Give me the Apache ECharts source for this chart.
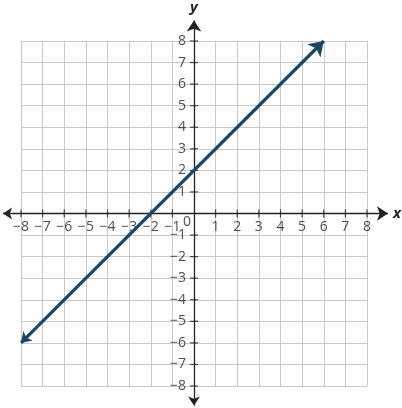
<!DOCTYPE html>
<html>
<head>
<meta charset="utf-8">
<script src="https://cdn.jsdelivr.net/npm/echarts@6/dist/echarts.min.js"></script>
<style>html,body{margin:0;padding:0;background:#fff}#c{width:402px;height:408px}</style>
</head>
<body>
<div id="c"></div>
<script>
// ---- data ----
const axisMin = -8;
const axisMax = 8;
const tickStep = 1;
const tickValues = [-8, -7, -6, -5, -4, -3, -2, -1, 1, 2, 3, 4, 5, 6, 7, 8];
const originLabel = '0';
const lineStart = [-8, -6];
const lineEnd = [6, 8];
const xAxisArrowExtent = [-8.83, 8.97];
const yAxisArrowExtent = [-8.9, 8.95];
const axisNames = ['x', 'y'];

function fmt(v) {
  return v < 0 ? '\u2212' + (-v) : String(v);
}

const chart = echarts.init(document.getElementById('c'), null, {renderer: 'canvas'});
const font = 'Open Sans';
const axisColor = '#222';
const gridColor = '#c9c9c9';
const lineColor = '#1d4661';
const labelStyle = {fontFamily: font, fontSize: 14, color: axisColor};

const option = {
  animation: false,
  backgroundColor: '#fff',
  grid: {left: 21, right: 35, top: 41, bottom: 22, containLabel: false, outerBoundsMode: 'none'},
  xAxis: {
    type: 'value', min: axisMin, max: axisMax, interval: tickStep, position: 'bottom',
    axisLine: {show: false, onZero: true},
    splitLine: {show: true, lineStyle: {color: gridColor, width: 1}},
    axisTick: {show: false},
    axisLabel: {show: false},
    name: axisNames[0], nameLocation: 'end', nameGap: 26,
    nameTextStyle: {fontFamily: font, fontStyle: 'italic', fontWeight: 'bold', fontSize: 15, color: axisColor, align: 'left', verticalAlign: 'middle'}
  },
  yAxis: {
    type: 'value', min: axisMin, max: axisMax, interval: tickStep, position: 'left',
    axisLine: {show: false, onZero: true},
    splitLine: {show: true, lineStyle: {color: gridColor, width: 1}},
    axisTick: {show: false},
    axisLabel: {show: false},
    name: axisNames[1], nameLocation: 'end', nameGap: 26,
    nameTextStyle: {fontFamily: font, fontStyle: 'italic', fontWeight: 'bold', fontSize: 15, color: axisColor, align: 'center', verticalAlign: 'bottom'}
  },
  series: [
    {
      type: 'lines', coordinateSystem: 'cartesian2d', clip: false, z: 3,
      symbol: ['arrow', 'arrow'], symbolSize: [9, 11], symbolOffset: [0, '50%'],
      lineStyle: {color: axisColor, width: 1.3, opacity: 1},
      itemStyle: {color: axisColor},
      data: [
        {coords: [[xAxisArrowExtent[0], 0], [xAxisArrowExtent[1], 0]]},
        {coords: [[0, yAxisArrowExtent[0]], [0, yAxisArrowExtent[1]]]}
      ]
    },
    {
      type: 'scatter', z: 3, silent: true,
      symbol: 'rect', symbolSize: [1.2, 8],
      itemStyle: {color: axisColor},
      label: Object.assign({show: true, position: 'inside', offset: [0, 13.5], formatter: function (p) { return fmt(p.value[0]); }}, labelStyle),
      data: tickValues.map(function (t) { return [t, 0]; })
    },
    {
      type: 'scatter', z: 3, silent: true,
      symbol: 'rect', symbolSize: [8, 1.2],
      itemStyle: {color: axisColor},
      label: Object.assign({show: true, position: 'inside', align: 'right', offset: [-8, 0], formatter: function (p) { return fmt(p.value[1]); }}, labelStyle),
      data: tickValues.map(function (t) { return [0, t]; })
    },
    {
      type: 'scatter', z: 3, silent: true,
      symbol: 'circle', symbolSize: 0,
      label: Object.assign({show: true, position: 'inside', offset: [-7, 9], formatter: originLabel}, labelStyle),
      data: [[0, 0]]
    },
    {
      type: 'lines', coordinateSystem: 'cartesian2d', clip: false, z: 4,
      symbol: ['arrow', 'arrow'], symbolSize: [10, 14], symbolOffset: [0, '50%'],
      lineStyle: {color: lineColor, width: 3.2, opacity: 1},
      itemStyle: {color: lineColor},
      data: [{coords: [lineStart, lineEnd]}]
    }
  ]
};
chart.setOption(option);
</script>
</body>
</html>
